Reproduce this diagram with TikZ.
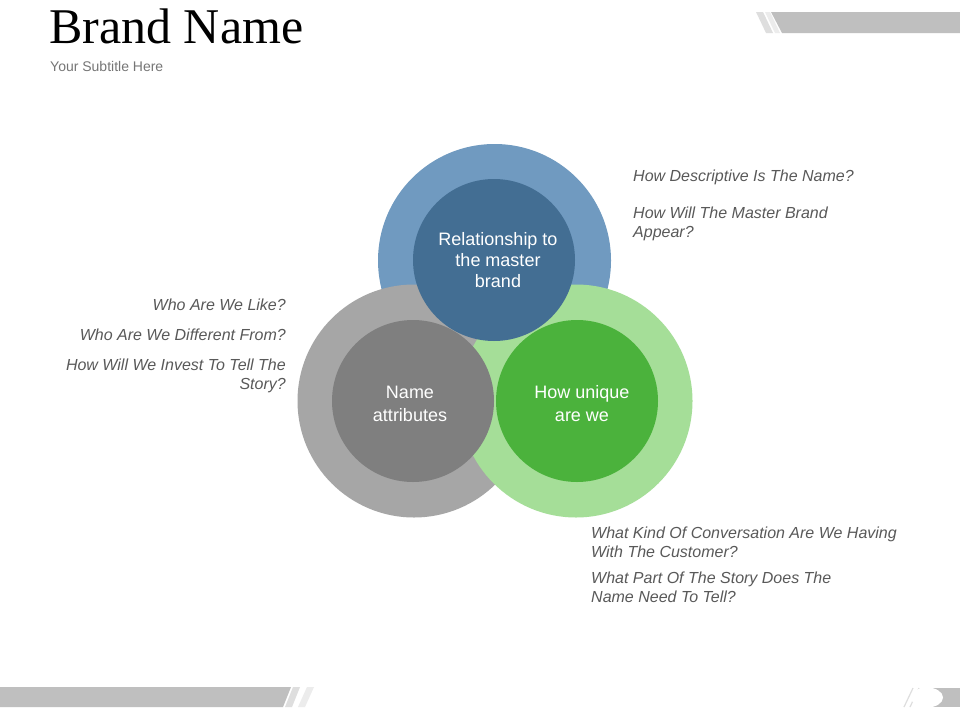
\documentclass[tikz,border=0pt]{standalone}
\usepackage{fontspec}
\setmainfont{Liberation Sans}
\newfontfamily\titlefont{Liberation Serif}
\definecolor{blueout}{RGB}{112,154,192}
\definecolor{bluein}{RGB}{67,110,147}
\definecolor{grayout}{RGB}{166,166,166}
\definecolor{grayin}{RGB}{127,127,127}
\definecolor{greenout}{RGB}{165,222,152}
\definecolor{greenin}{RGB}{75,178,60}
\definecolor{qtext}{RGB}{89,89,89}
\definecolor{subgray}{RGB}{118,118,118}
\definecolor{barcol}{RGB}{191,191,191}
\definecolor{stripeA}{RGB}{222,222,222}
\definecolor{stripeB}{RGB}{236,236,236}
\begin{document}
\begin{tikzpicture}[x=1pt,y=-1pt,
  outerc/.style={circle,inner sep=0pt,minimum size=233pt},
  innerc/.style={circle,inner sep=0pt,minimum size=162pt},
  clabel/.style={text=white,align=center,inner sep=0pt,font=\fontsize{18}{21}\selectfont},
  qright/.style={text=qtext,anchor=base west,align=left,inner sep=0pt,font=\fontsize{16}{19}\selectfont\itshape},
  qleft/.style={text=qtext,anchor=base east,align=right,inner sep=0pt,font=\fontsize{16}{19}\selectfont\itshape}]
\useasboundingbox (0,0) rectangle (960,720);
\fill[white] (0,0) rectangle (960,720);
% decorations
\fill[stripeA] (756,12) -- (763,12) -- (773,33) -- (766,33) -- cycle;
\fill[stripeB] (765,12) -- (770,12) -- (780,33) -- (775,33) -- cycle;
\fill[barcol] (771,12) -- (960,12) -- (960,33) -- (782,33) -- cycle;
\fill[barcol] (0,687) -- (291,687) -- (283,707) -- (0,707) -- cycle;
\fill[stripeA] (293,687) -- (300,687) -- (292,707) -- (285,707) -- cycle;
\fill[stripeB] (307,687) -- (314,687) -- (305,707) -- (298,707) -- cycle;
\draw[stripeA,line width=1.2pt] (904,707) -- (913,688);
\draw[stripeA,line width=1.2pt] (910,707) -- (919,688);
\fill[barcol] (927,688) rectangle (960,707);
\fill[white] (927,697.5) ellipse [x radius=16pt, y radius=10pt];
% title
\node[anchor=base west,inner sep=0pt,font=\titlefont\fontsize{50}{54}\selectfont] (title) at (49,43.5) {Brand Name};
\node[anchor=base west,inner sep=0pt,text=subgray,font=\fontsize{14}{16}\selectfont] (subtitle) at (50,71) {Your Subtitle Here};
% circles
\node[outerc,fill=blueout] (bo) at (494.5,260.5) {};
\node[outerc,fill=grayout] (go) at (414,401) {};
\node[outerc,fill=greenout] (gro) at (576,401) {};
\node[innerc,fill=bluein] (bi) at (494,260) {};
\node[innerc,fill=grayin] (gi) at (413,401) {};
\node[innerc,fill=greenin] (gri) at (577,401) {};
\node[clabel] (lbl1) at (498,260) {Relationship to\\the master\\brand};
\node[clabel,font=\fontsize{18}{23}\selectfont] (lbl2) at (410,404) {Name\\attributes};
\node[clabel,font=\fontsize{18}{23}\selectfont] (lbl3) at (582,404) {How unique\\are we};
% questions (base anchor = baseline of last line)
\node[qright] (q1) at (633,181) {How Descriptive Is The Name?};
\node[qright] (q2) at (633,237) {How Will The Master Brand\\Appear?};
\node[qright] (q3) at (591,557) {What Kind Of Conversation Are We Having\\With The Customer?};
\node[qright] (q4) at (591,602) {What Part Of The Story Does The\\Name Need To Tell?};
\node[qleft] (q5) at (286,310) {Who Are We Like?};
\node[qleft] (q6) at (286,340) {Who Are We Different From?};
\node[qleft] (q7) at (286,389) {How Will We Invest To Tell The\\Story?};
\end{tikzpicture}
\end{document}
